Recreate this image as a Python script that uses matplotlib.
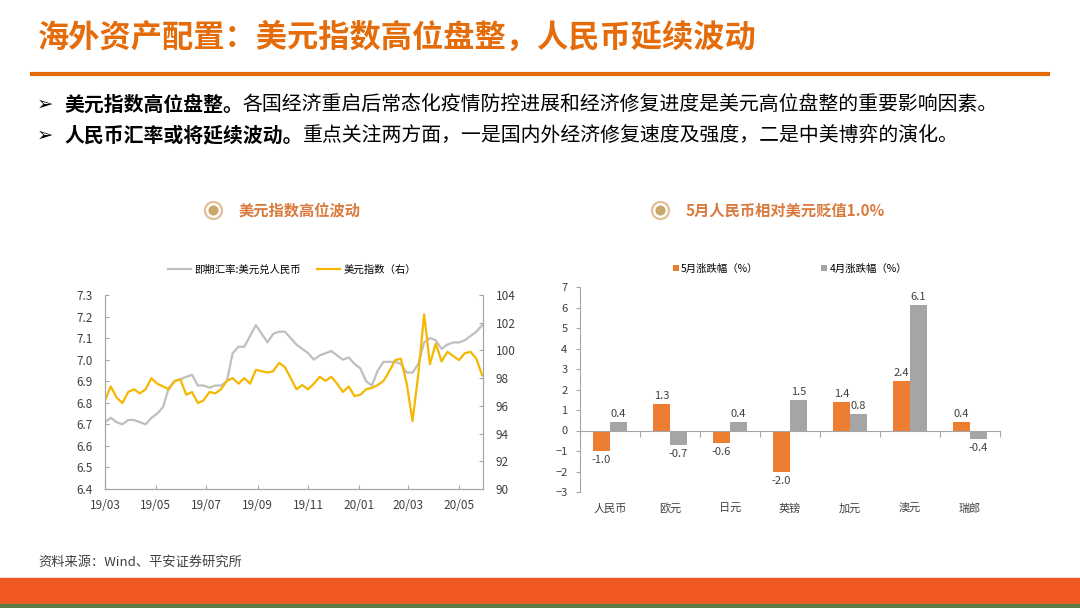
import numpy as np
import pandas as pd
import matplotlib
matplotlib.use("Agg")
import matplotlib.pyplot as plt
import matplotlib.dates as mdates
from matplotlib.patches import Rectangle
from matplotlib.lines import Line2D

plt.rcParams['font.family'] = ['Noto Sans CJK SC', 'DejaVu Sans']

# ---- data ----
dates = pd.date_range('2019-03-01', periods=66, freq='7D')
usdcny = [6.71, 6.73, 6.71, 6.70, 6.72, 6.72, 6.71, 6.70, 6.73, 6.75,
          6.78, 6.87, 6.90, 6.91, 6.92, 6.93, 6.88, 6.88, 6.87, 6.88,
          6.88, 6.90, 7.03, 7.06, 7.06, 7.11, 7.16, 7.12, 7.08, 7.12,
          7.13, 7.13, 7.10, 7.07, 7.05, 7.03, 7.00, 7.02, 7.03, 7.04,
          7.02, 7.00, 7.01, 6.98, 6.96, 6.90, 6.88, 6.95, 6.99, 6.99,
          6.99, 6.98, 6.94, 6.94, 6.98, 7.08, 7.10, 7.09, 7.05, 7.07,
          7.08, 7.08, 7.09, 7.11, 7.13, 7.16]
dxy = [96.4, 97.4, 96.6, 96.2, 97.0, 97.2, 96.9, 97.2, 98.0, 97.6,
       97.4, 97.2, 97.8, 97.9, 96.8, 97.0, 96.2, 96.4, 97.0, 96.9,
       97.2, 97.8, 98.0, 97.6, 98.0, 97.6, 98.6, 98.5, 98.4, 98.5,
       99.1, 98.8, 98.0, 97.2, 97.5, 97.2, 97.6, 98.1, 97.8, 98.1,
       97.6, 97.0, 97.4, 96.7, 96.8, 97.2, 97.3, 97.5, 97.8, 98.5,
       99.3, 99.4, 97.6, 94.9, 98.3, 102.6, 99.0, 100.5, 99.2, 99.9,
       99.6, 99.3, 99.8, 99.9, 99.4, 98.2]

currencies = ['人民币', '欧元', '日元', '英镑', '加元', '澳元', '瑞郎']
may_chg = [-1.0, 1.3, -0.6, -2.0, 1.4, 2.4, 0.4]
apr_chg = [0.4, -0.7, 0.4, 1.5, 0.8, 6.1, -0.4]

title = '海外资产配置：美元指数高位盘整，人民币延续波动'
bullets = [('美元指数高位盘整。', '各国经济重启后常态化疫情防控进展和经济修复进度是美元高位盘整的重要影响因素。'),
           ('人民币汇率或将延续波动。', '重点关注两方面，一是国内外经济修复速度及强度，二是中美博弈的演化。')]
sub_left = '美元指数高位波动'
sub_right = '5月人民币相对美元贬值1.0%'
source = '资料来源：Wind、平安证券研究所'

orange = '#E46C0A'
W, H = 1080, 608
fig = plt.figure(figsize=(10.8, 6.08), dpi=100)

# background layer in pixel coords
bg = fig.add_axes([0, 0, 1, 1])
bg.set_xlim(0, W)
bg.set_ylim(H, 0)
bg.axis('off')

bg.text(38, 38, title, fontsize=22.5, fontweight='bold', color=orange, va='center')
bg.plot([30, 1050], [74, 74], color=orange, lw=3, solid_capstyle='butt')

renderer = fig.canvas.get_renderer()
for i, (b, rest) in enumerate(bullets):
    y = 104 + 31 * i
    bg.text(37, y, '➢', family=['DejaVu Sans'], fontsize=14, fontweight='bold', va='center', color='black')
    t = bg.text(64, y, b, fontsize=14.3, fontweight='bold', va='center', color='black')
    bb = t.get_window_extent(renderer)
    bg.text(bb.x1, y, rest, fontsize=14.3, va='center', color='black')

for cx, txt in [(213, sub_left), (660, sub_right)]:
    bg.scatter([cx], [210], s=150, facecolor='white', edgecolor='#E3BE96', linewidth=1.6, zorder=3)
    bg.scatter([cx], [210], s=40, color='#C9A86C', zorder=4)
    bg.text(cx + 26, 211, txt, fontsize=11, fontweight='bold', color='#D97A3E', va='center')

bg.text(38, 562, source, fontsize=9.5, color='#404040', va='center')
bg.add_patch(Rectangle((0, 578), W, 26, color='#F05A22'))
bg.add_patch(Rectangle((0, 604), W, 4, color='#5E7A45'))

tick_col = '#404040'
spine_col = '#A6A6A6'

# ---- left: line chart ----
ax1 = fig.add_axes([105 / W, 1 - 489 / H, 378 / W, 194 / H])
ax1.plot(dates, usdcny, color='#BFBFBF', lw=1.6)
ax1.set_ylim(6.4, 7.3)
ax1.set_yticks(np.round(np.arange(6.4, 7.31, 0.1), 1))
ax1.yaxis.set_major_formatter(matplotlib.ticker.FormatStrFormatter('%.1f'))
ax1.set_xlim(pd.Timestamp('2019-03-01'), pd.Timestamp('2020-05-30'))
ax1.xaxis.set_major_locator(mdates.MonthLocator(bymonth=[1, 3, 5, 7, 9, 11]))
ax1.xaxis.set_major_formatter(mdates.DateFormatter('%y/%m'))

ax2 = ax1.twinx()
ax2.plot(dates, dxy, color='#F5B800', lw=1.6)
ax2.set_ylim(90, 104)
ax2.set_yticks(range(90, 105, 2))

for a in (ax1, ax2):
    a.spines['top'].set_visible(False)
    for s in ('left', 'right', 'bottom'):
        a.spines[s].set_color(spine_col)
    a.tick_params(direction='in', length=3, color=spine_col, labelsize=8.5, labelcolor=tick_col, pad=9)
ax1.tick_params(axis='x', pad=7)

handles = [Line2D([], [], color='#BFBFBF', lw=1.6), Line2D([], [], color='#F5B800', lw=1.6)]
ax1.legend(handles, ['即期汇率:美元兑人民币', '美元指数（右）'], loc='center',
           bbox_to_anchor=(0.495, 1.13), ncol=2, frameon=False, fontsize=7.5,
           handlelength=2.2, handletextpad=0.3, columnspacing=1.6)

# ---- right: bar chart ----
ax3 = fig.add_axes([580 / W, 1 - 492 / H, 420 / W, 205 / H])
x = np.arange(len(currencies))
w = 0.28
ax3.bar(x - w / 2, may_chg, w, color='#ED7D31', label='5月涨跌幅（%）')
ax3.bar(x + w / 2, apr_chg, w, color='#A5A5A5', label='4月涨跌幅（%）')
for xi, v in zip(x - w / 2, may_chg):
    ax3.text(xi, v + (0.15 if v >= 0 else -0.2), f'{v:.1f}', ha='center',
             va='bottom' if v >= 0 else 'top', fontsize=8, color=tick_col)
for xi, v in zip(x + w / 2, apr_chg):
    ax3.text(xi, v + (0.15 if v >= 0 else -0.2), f'{v:.1f}', ha='center',
             va='bottom' if v >= 0 else 'top', fontsize=8, color=tick_col)

ax3.set_ylim(-3, 7)
ax3.set_yticks(range(-3, 8))
ax3.set_xlim(-0.5, len(currencies) - 0.5)
ax3.set_xticks(np.arange(-0.5, len(currencies), 1))
ax3.set_xticklabels([])
ax3.spines['bottom'].set_position(('data', 0))
ax3.spines['top'].set_visible(False)
ax3.spines['right'].set_visible(False)
ax3.spines['left'].set_color(spine_col)
ax3.spines['bottom'].set_color(spine_col)
ax3.tick_params(axis='y', direction='out', length=3, color=spine_col, labelsize=8, labelcolor=tick_col, pad=6)
ax3.tick_params(axis='x', direction='out', length=4, color=spine_col)
for xi, name in zip(x, currencies):
    ax3.text(xi, -3.8, name, ha='center', va='center', fontsize=8, color=tick_col)

ax3.legend(loc='center', bbox_to_anchor=(0.5, 1.09), ncol=2, frameon=False, fontsize=7.5,
           handlelength=0.6, handleheight=0.6, handletextpad=0.2, columnspacing=6)

fig.savefig('out.png', dpi=100)
